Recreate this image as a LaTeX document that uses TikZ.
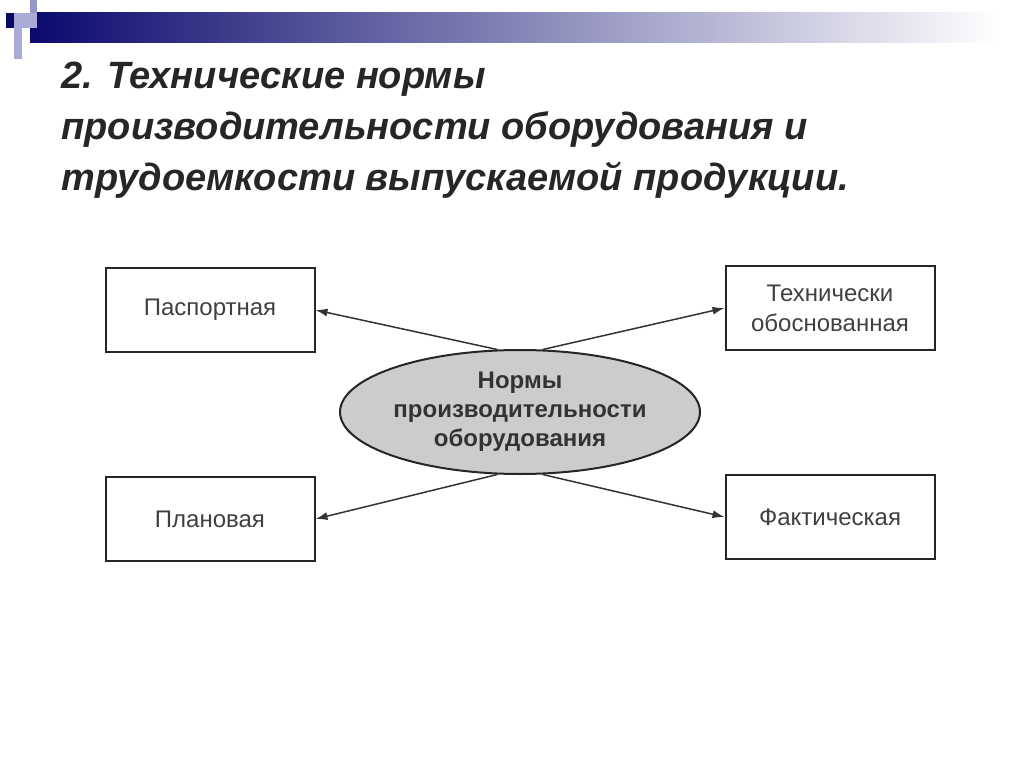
\documentclass[tikz,border=0pt]{standalone}
\usepackage{fontspec}
\setmainfont{Liberation Sans}
\usetikzlibrary{shapes.geometric,arrows.meta}
\definecolor{navy}{RGB}{10,10,110}
\definecolor{lav}{RGB}{170,170,215}
\definecolor{lav2}{RGB}{150,150,200}
\definecolor{navy2}{RGB}{10,10,100}
\begin{document}
\begin{tikzpicture}[x=1pt,y=-1pt,
  box/.style={draw=black!85,line width=2pt,minimum width=209pt,minimum height=84pt,font=\fontsize{24}{30}\selectfont,text=black!75,align=center},
  arr/.style={-{Latex[length=12pt,width=8pt]},line width=1.5pt,black!80}]
\useasboundingbox (0,0) rectangle (1024,767);
\fill[white] (0,0) rectangle (1024,767);
\shade[left color=navy,right color=white] (30,13) rectangle (1000,43);
\fill[lav2] (30,0) rectangle (37,13);
\fill[lav] (13,13) rectangle (37,28);
\fill[navy2] (6,13) rectangle (14,28);
\fill[lav] (14,28) rectangle (22,59);
\node[anchor=north west,align=left,font=\fontsize{38}{51}\selectfont\bfseries\itshape,text=black!85] (t) at (58,58)
 {2. Технические нормы\\производительности оборудования и\\трудоемкости выпускаемой продукции.};
\node[box] (a) at (210,310) {Паспортная};
\node[box] (b) at (830,308) {Технически\\обоснованная};
\node[box] (c) at (210,519) {Плановая};
\node[box] (d) at (830,517) {Фактическая};
\node[draw=black!85,line width=2pt,fill=black!20,ellipse,minimum width=360pt,minimum height=124pt,inner sep=0pt,font=\fontsize{24}{29}\selectfont\bfseries,text=black!80,align=center] (e) at (520,412) {Нормы\\производительности\\оборудования};
\draw[arr] (e.110) -- (a.east);
\draw[arr] (e.70) -- (b.west);
\draw[arr] (e.-110) -- (c.east);
\draw[arr] (e.-70) -- (d.west);
\end{tikzpicture}
\end{document}
